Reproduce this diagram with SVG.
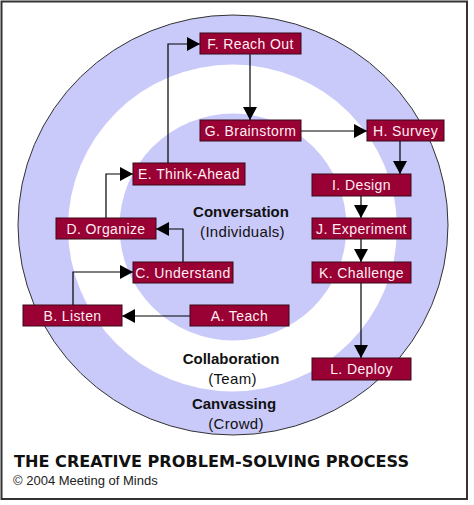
<svg xmlns="http://www.w3.org/2000/svg" width="474" height="505" viewBox="0 0 474 505">
<style>
.box rect{fill:#990033;stroke:#3a0a18;stroke-width:1}
.box text{fill:#ffeef2;font-family:"Liberation Sans",Arial,sans-serif;font-size:14px;letter-spacing:0.4px;text-anchor:middle}
.conn path{fill:none;stroke:#000;stroke-width:1.2;marker-end:url(#arr)}
.lbl{font-family:"Liberation Sans",Arial,sans-serif;font-size:15px;fill:#111;text-anchor:middle;letter-spacing:0.3px}
.lbl.b{font-weight:bold;letter-spacing:0}
</style>
<defs>
<marker id="arr" viewBox="0 0 13 14" refX="13" refY="7" markerWidth="13" markerHeight="14" markerUnits="userSpaceOnUse" orient="auto">
<path d="M0,0 L13,7 L0,14 z" fill="#000"/>
</marker>
</defs>
<rect x="0" y="0" width="474" height="505" fill="#fff"/>
<rect x="1.5" y="1.5" width="465.5" height="497.5" fill="#fff" stroke="#333" stroke-width="2"/>
<g id="rings">
<ellipse cx="233" cy="225" rx="215" ry="210" fill="#c9c9fa" stroke="#333" stroke-width="1"/>
<ellipse cx="232.5" cy="228" rx="164.5" ry="163.5" fill="#fff"/>
<ellipse cx="233" cy="227" rx="113.5" ry="113.5" fill="#c9c9fa"/>
</g>
<g id="connectors" class="conn">
<path d="M168,163 V44 H200"/>
<path d="M250,54 V120"/>
<path d="M301,131 H367"/>
<path d="M400,141 V174"/>
<path d="M361,196 V218"/>
<path d="M361,239 V262"/>
<path d="M361,283 V358"/>
<path d="M190,316 H122"/>
<path d="M73,305 V272 H133"/>
<path d="M183,262 V229 H156"/>
<path d="M106,218 V174 H133"/>
</g>
<g id="nodeF" class="box"><rect x="200" y="33" width="101" height="21"/><text x="250.5" y="48.5">F. Reach Out</text></g>
<g id="nodeG" class="box"><rect x="200" y="120" width="101" height="21"/><text x="250.5" y="135.5">G. Brainstorm</text></g>
<g id="nodeH" class="box"><rect x="367" y="120" width="77" height="21"/><text x="405.5" y="135.5">H. Survey</text></g>
<g id="nodeE" class="box"><rect x="133" y="163" width="112" height="22"/><text x="189" y="179">E. Think-Ahead</text></g>
<g id="nodeI" class="box"><rect x="312" y="174" width="99" height="22"/><text x="361.5" y="190">I. Design</text></g>
<g id="nodeD" class="box"><rect x="56" y="218" width="100" height="21"/><text x="106" y="233.5">D. Organize</text></g>
<g id="nodeJ" class="box"><rect x="312" y="218" width="99" height="21"/><text x="361.5" y="233.5">J. Experiment</text></g>
<g id="nodeC" class="box"><rect x="133" y="262" width="100" height="21"/><text x="183" y="277.5">C. Understand</text></g>
<g id="nodeK" class="box"><rect x="312" y="262" width="99" height="21"/><text x="361.5" y="277.5">K. Challenge</text></g>
<g id="nodeB" class="box"><rect x="23" y="305" width="99" height="21"/><text x="72.5" y="320.5">B. Listen</text></g>
<g id="nodeA" class="box"><rect x="190" y="305" width="99" height="21"/><text x="239.5" y="320.5">A. Teach</text></g>
<g id="nodeL" class="box"><rect x="312" y="358" width="99" height="22"/><text x="361.5" y="374">L. Deploy</text></g>
<g id="labels">
<text class="lbl b" x="241" y="217">Conversation</text>
<text class="lbl" x="242.5" y="237">(Individuals)</text>
<text class="lbl b" x="231" y="364">Collaboration</text>
<text class="lbl" x="232.5" y="384">(Team)</text>
<text class="lbl b" x="234" y="409">Canvassing</text>
<text class="lbl" x="236" y="429">(Crowd)</text>
</g>
<text x="14" y="467" font-family="'DejaVu Sans',sans-serif" font-weight="bold" font-size="15" fill="#111" textLength="395" lengthAdjust="spacingAndGlyphs">THE CREATIVE PROBLEM-SOLVING PROCESS</text>
<text x="13" y="485" font-family="'Liberation Sans',Arial,sans-serif" font-size="13" fill="#222">© 2004 Meeting of Minds</text>
</svg>
